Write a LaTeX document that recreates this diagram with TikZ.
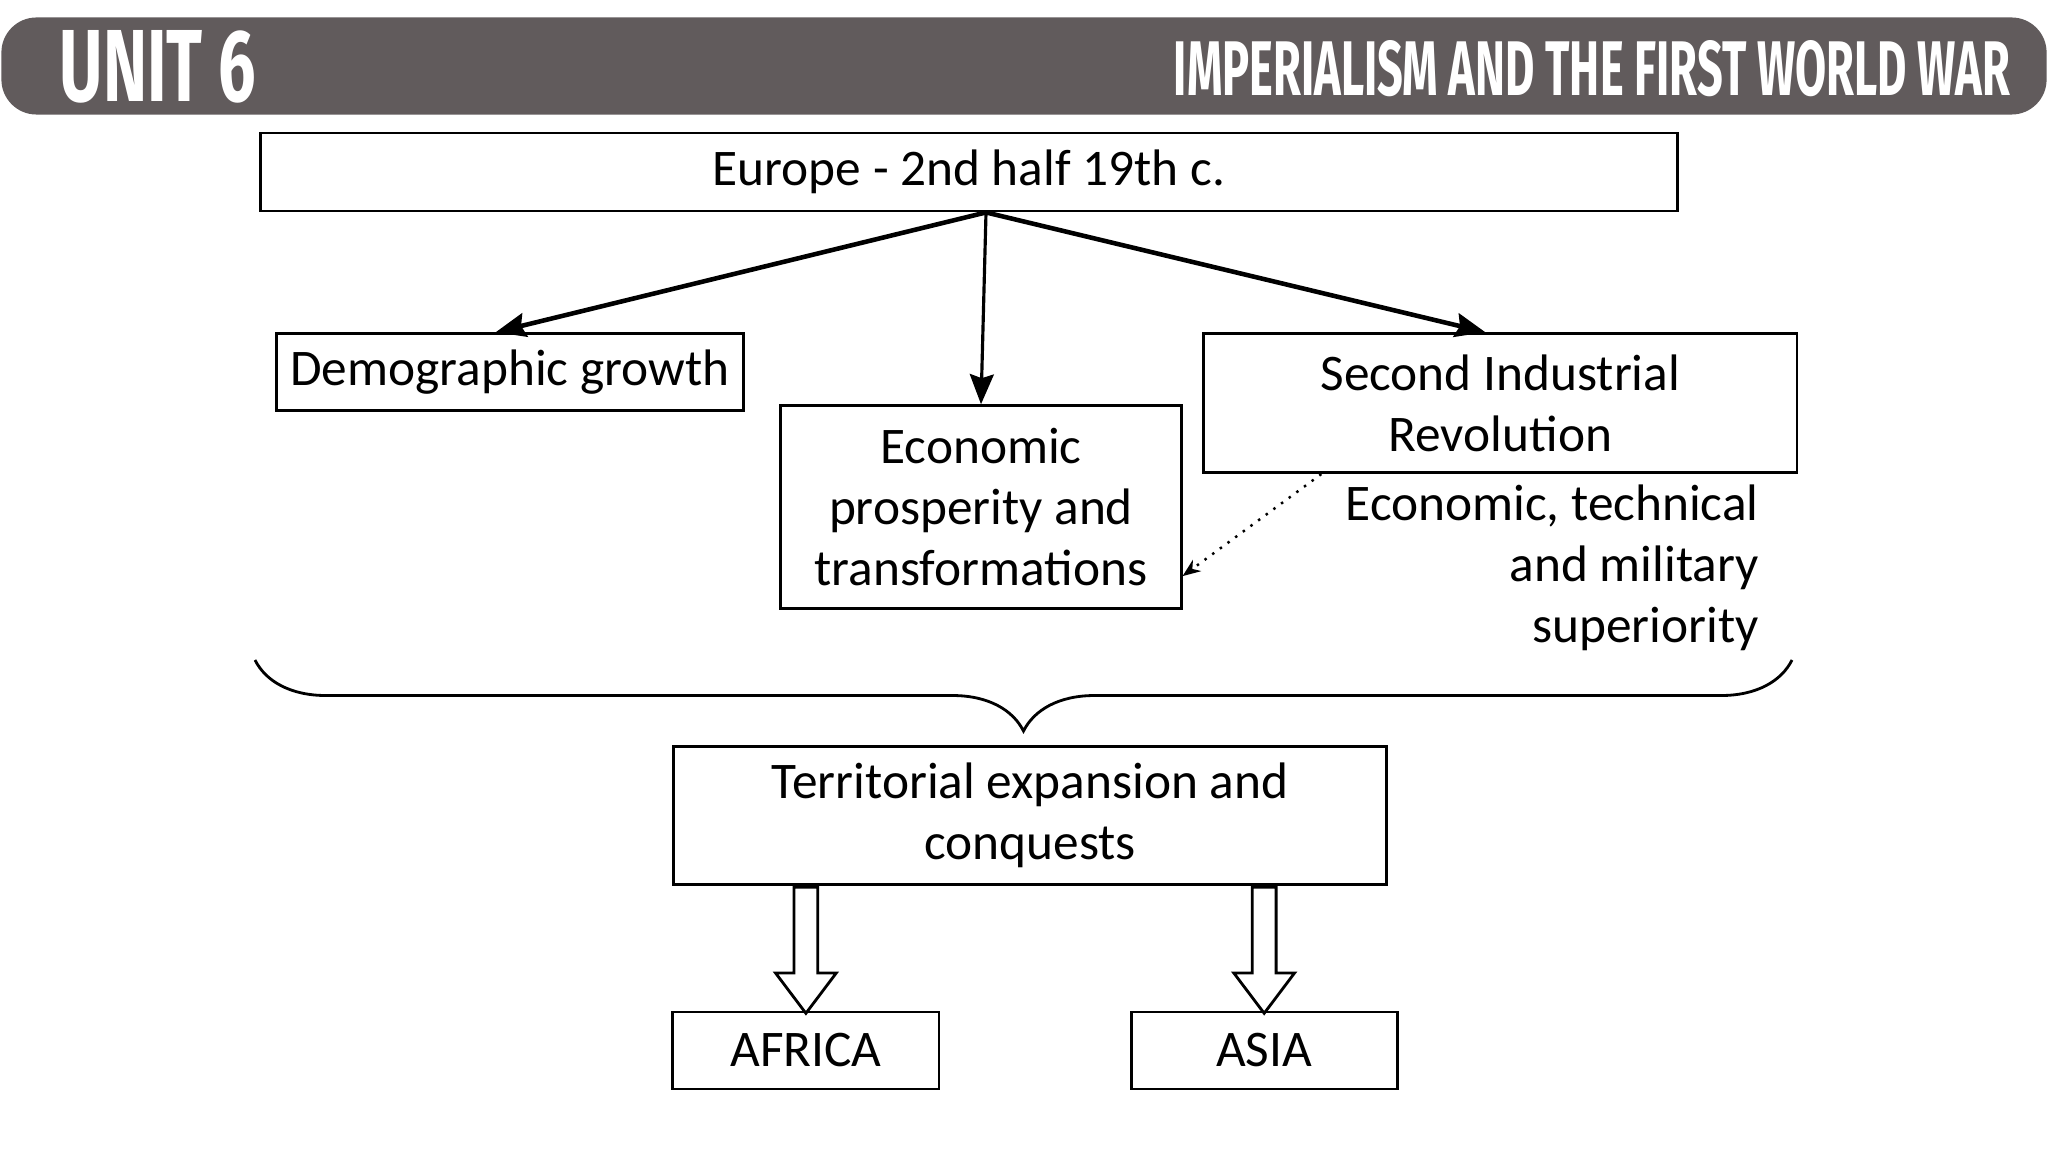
\documentclass[tikz,border=0pt]{standalone}
\usepackage{fontspec}
\setmainfont{Carlito}
\newfontfamily\headfont{Fira Sans}
\usetikzlibrary{positioning,calc,arrows.meta,shapes.arrows,decorations.pathreplacing}
\definecolor{bargray}{HTML}{615B5C}

\begin{document}
\begin{tikzpicture}[x=0.01cm,y=-0.01cm,>={Stealth[length=0.3cm,width=0.24cm,inset=0.04cm]},on grid,
  box/.style={draw,line width=0.8pt,align=center,inner sep=0pt,font=\fontsize{14.6}{17.4}\selectfont},
  link/.style={->,line width=1.3pt},
  bigarrow/.style={draw,line width=0.8pt,shape=single arrow,shape border rotate=270,single arrow head indent=0pt,
    inner sep=0.105cm,single arrow head extend=0.185cm,single arrow tip angle=74,minimum height=1.26cm,anchor=tail}]
  \useasboundingbox (0,0) rectangle (2048,1152);
  % header bar
  \node[fill=bargray,rounded corners=0.35cm,minimum width=20.44cm,minimum height=0.97cm] (bar) at (1024,66) {};
  \node[anchor=south west,inner sep=0pt,text=white] (unit) at (59,104) {\resizebox{1.96cm}{0.71cm}{\headfont\bfseries UNIT 6}};
  \node[anchor=south east,inner sep=0pt,text=white] (title) at (2011,98) {\resizebox{8.36cm}{0.55cm}{\headfont\bfseries IMPERIALISM AND THE FIRST WORLD WAR}};

  % boxes
  \node[box,minimum width=14.16cm,minimum height=0.78cm] (europe) at (969,172) {Europe - 2nd half 19th c.};
  \node[box,minimum width=4.67cm,minimum height=0.77cm] (demo) [below left=2.0cm and 4.59cm of europe] {Demographic growth};
  \node[box,minimum width=4cm,minimum height=2.03cm] (econ) [below right=3.35cm and 0.12cm of europe] {Economic\\prosperity and\\transformations};
  \node[box,minimum width=5.93cm,minimum height=1.39cm] (second) [below right=2.31cm and 5.31cm of europe] {Second Industrial\\Revolution};
  \node[align=right,inner sep=0pt,anchor=north east,font=\fontsize{14.6}{17.4}\selectfont] (superior)
    at ([xshift=-0.39cm,yshift=-0.1cm]second.south east) {Economic, technical\\and military\\superiority};
  \node[box,minimum width=7.13cm,minimum height=1.38cm] (terr) [below right=6.43cm and 0.61cm of europe] {Territorial expansion and\\conquests};
  \node[box,minimum width=2.66cm,minimum height=0.77cm] (africa) [below left=2.35cm and 2.24cm of terr] {AFRICA};
  \node[box,minimum width=2.66cm,minimum height=0.77cm] (asia) [below right=2.35cm and 2.34cm of terr] {ASIA};

  % arrows
  \coordinate (eb) at ([xshift=0.17cm]europe.south);
  \draw[link] (eb) -- ([xshift=-0.14cm]demo.north);
  \draw[->,line width=0.9pt] (eb) -- (econ.north);
  \draw[link] (eb) -- ([xshift=-0.15cm]second.north);
  \draw[->,dotted,line width=0.7pt,>={Stealth[length=0.18cm,width=0.14cm]}] ([xshift=1.19cm]second.south west) -- ([yshift=0.34cm]econ.south east);

  % brace
  \coordinate (brl) at (255,660);
  \coordinate (brr) at (1792,660);
  \draw[decorate,decoration={brace,mirror,amplitude=0.71cm},line width=0.8pt] (brl) -- (brr);

  % block arrows
  \node[bigarrow] (toafrica) at (africa.north |- terr.south) {};
  \node[bigarrow] (toasia) at (asia.north |- terr.south) {};
\end{tikzpicture}
\end{document}
